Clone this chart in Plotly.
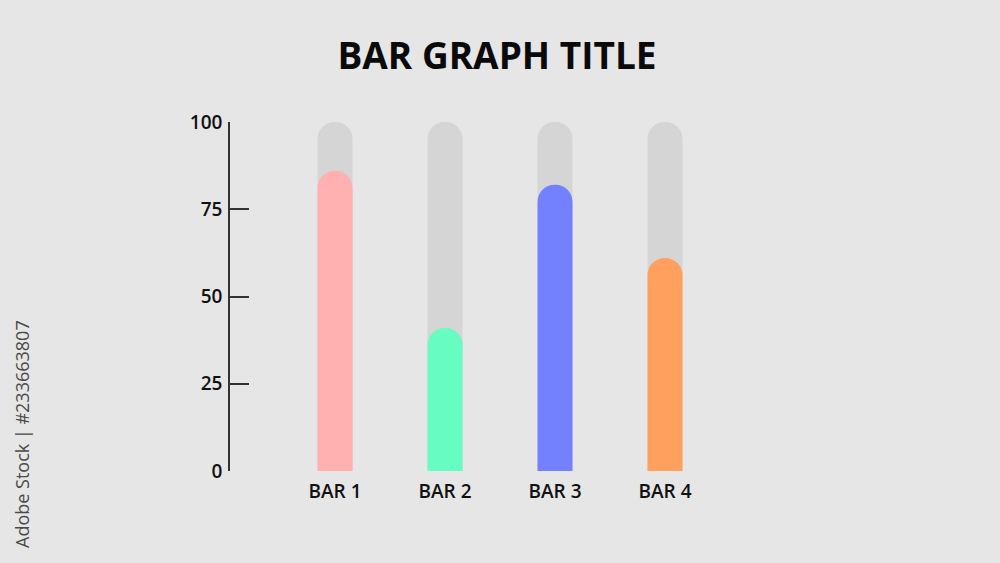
import plotly.graph_objects as go

# bar data
categories = ["BAR 1", "BAR 2", "BAR 3", "BAR 4"]
values = [86, 41, 82, 61]
track = [100, 100, 100, 100]
bar_colors = ["#ffb1b1", "#66fcc2", "#7381ff", "#ffa05f"]
tick_vals = [0, 25, 50, 75, 100]

BG = "#e6e6e6"

fig = go.Figure()

# grey "track" behind each bar
fig.add_trace(go.Bar(
    x=categories, y=track,
    marker=dict(color="#d5d5d5", line=dict(width=0), cornerradius=17),
    width=0.318, hoverinfo="skip", showlegend=False,
))

# coloured bars on an overlaid axis pair so they get their own rounded tops
fig.add_trace(go.Bar(
    x=categories, y=values,
    marker=dict(color=bar_colors, line=dict(width=0), cornerradius=17),
    width=0.318, showlegend=False,
    xaxis="x2", yaxis="y2",
))

fig.update_layout(
    width=1000, height=563,
    paper_bgcolor=BG,
    plot_bgcolor=BG,
    margin=dict(l=230, r=280, t=122, b=92),
    title=dict(
        text="BAR GRAPH TITLE",
        x=0.497, xanchor="center",
        y=0.9, yanchor="middle",
        font=dict(family="Open Sans", size=37, color="#0a0a0a", weight=700),
    ),
    font=dict(family="Open Sans", color="#111111"),
    xaxis=dict(
        range=[-0.955, 3.5],
        showline=False, showgrid=False, zeroline=False, ticks="",
        tickfont=dict(family="Open Sans", size=19, color="#111111", weight=600),
        ticklabelstandoff=7,
    ),
    yaxis=dict(
        range=[0, 100],
        tickvals=tick_vals,
        showline=True, linecolor="#333333", linewidth=1.5,
        ticks="inside", ticklen=19, tickwidth=1.5, tickcolor="#333333",
        showgrid=False, zeroline=False,
        tickfont=dict(family="Open Sans", size=19, color="#111111", weight=600),
        ticklabelstandoff=2,
    ),
    xaxis2=dict(
        range=[-0.955, 3.5], overlaying="x", visible=False,
    ),
    yaxis2=dict(
        range=[0, 100], overlaying="y", visible=False,
    ),
)

# vertical stock id text at the left edge
fig.add_annotation(
    text="Adobe Stock | #233663807",
    xref="paper", yref="paper",
    x=(22 - 230) / 490, y=(471 - 434) / 349,
    xanchor="center", yanchor="middle",
    textangle=-90, showarrow=False,
    font=dict(family="Open Sans", size=18, color="#4a4a4a"),
)

fig.write_html(
    "out.html",
    config={"displayModeBar": False},
    post_script="document.body.style.margin='0';document.body.style.background='#e6e6e6';",
)
